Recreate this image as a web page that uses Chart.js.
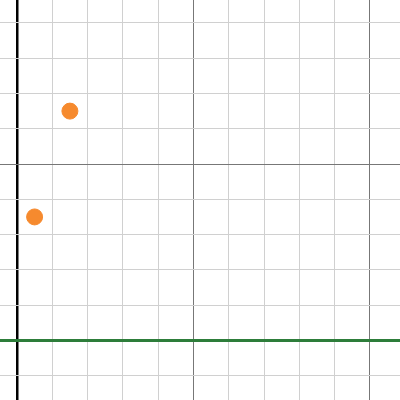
<!DOCTYPE html>
<html>
<head>
<script src="https://cdn.jsdelivr.net/npm/chart.js@4"></script>
<style>
  body { margin: 0; background: #fff; }
  #wrap { width: 400px; height: 400px; }
</style>
</head>
<body>
<div id="wrap"><canvas id="graph"></canvas></div>
<script>
// data
const point_x = [1.5, 0.5];
const point_y = [11.5, 8.5];
const line_x = [-1, 11];
const line_y = [5, 5];

const xRange = [-0.48, 10.85];
const yRange = [3.31, 14.65];

function gridColor(ctx) {
    const v = ctx.tick.value;
    if (Math.abs(v) < 1e-9) return '#000';
    if (Math.abs(v % 5) < 1e-9) return '#777';
    return '#d0d0d0';
}
function gridWidth(ctx) {
    return Math.abs(ctx.tick.value) < 1e-9 ? 2.5 : 1;
}

const axis = (range) => ({
    type: 'linear', min: range[0], max: range[1],
    ticks: { display: false },
    border: { display: false },
    grid: { color: gridColor, lineWidth: gridWidth, drawTicks: false },
    afterBuildTicks: (scale) => {
        const t = [];
        for (let v = Math.ceil(range[0]); v <= range[1]; v++) t.push({ value: v });
        scale.ticks = t;
    }
});

new Chart(document.getElementById('graph').getContext('2d'), {
    type: 'scatter',
    data: {
        datasets: [
            {
                data: line_x.map((x, i) => ({ x: x, y: line_y[i] })),
                showLine: true, borderColor: '#2d7d3a', borderWidth: 3, pointRadius: 0
            },
            {
                data: point_x.map((x, i) => ({ x: x, y: point_y[i] })),
                backgroundColor: '#f68a2e', borderColor: '#f68a2e', pointRadius: 8
            }
        ]
    },
    options: {
        responsive: true, maintainAspectRatio: false, animation: false,
        layout: { padding: 0, autoPadding: false },
        scales: { x: axis(xRange), y: axis(yRange) },
        plugins: { legend: { display: false }, tooltip: { enabled: false } }
    }
});
</script>
</body>
</html>
